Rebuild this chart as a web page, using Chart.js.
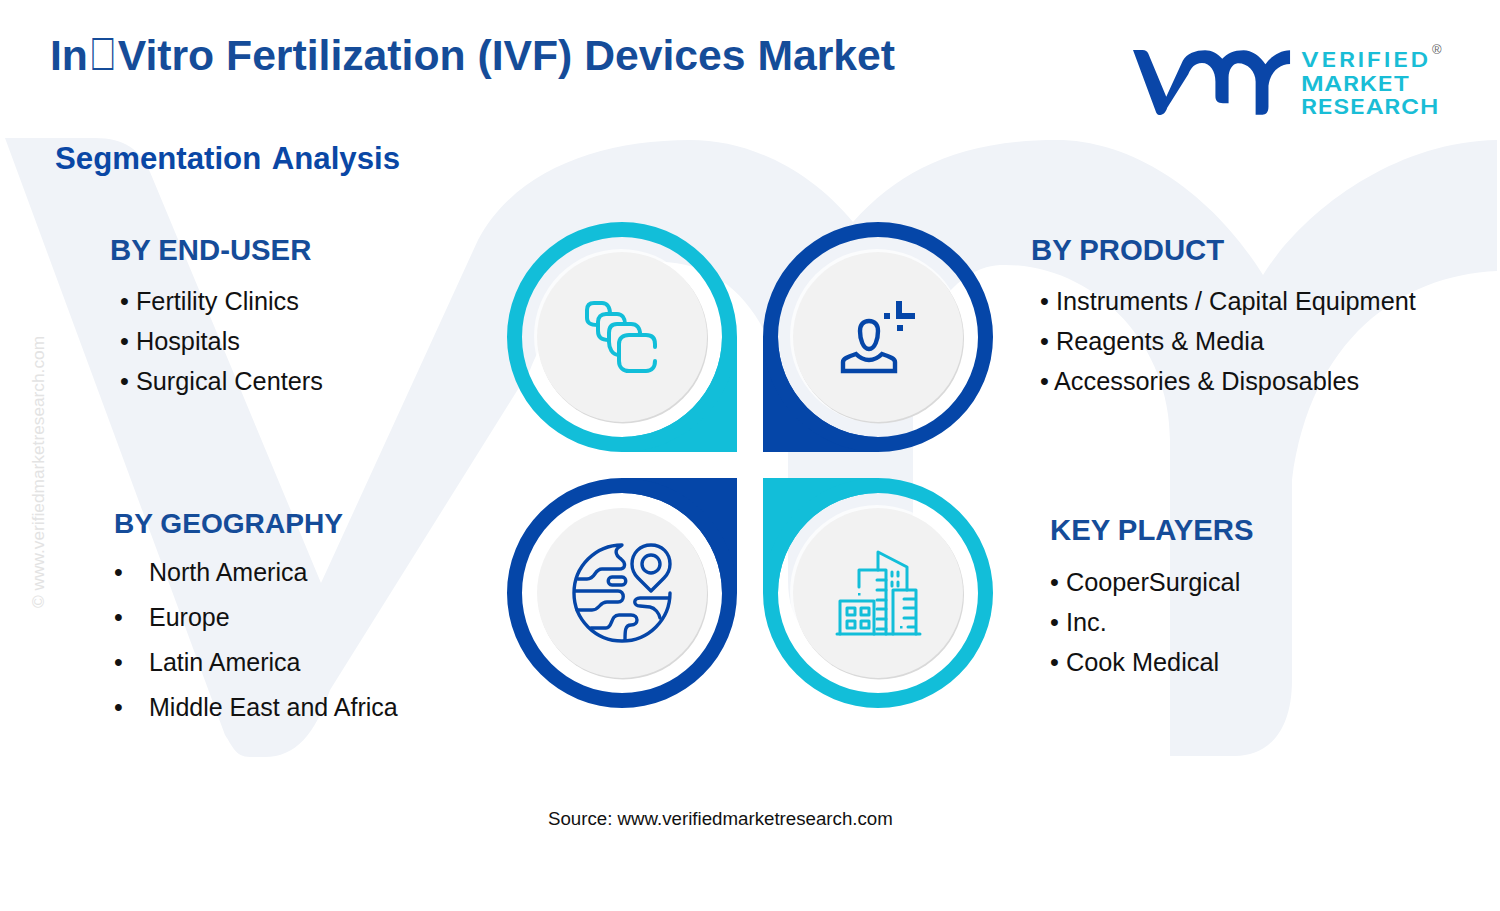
<!DOCTYPE html>
<html>
<head>
<meta charset="utf-8">
<title>IVF Devices Market</title>
<script src="https://cdn.jsdelivr.net/npm/chart.js@4"></script>
<style>
  html, body { margin: 0; padding: 0; background: #fff; }
  #page { position: relative; width: 1500px; height: 911px; overflow: hidden; font-family: "Liberation Sans", Arial, sans-serif; }
  #page svg { position: absolute; left: 0; top: 0; }
  #page canvas { position: absolute; }
  .t { position: absolute; white-space: nowrap; line-height: 1.15; }
  .head { font-weight: bold; font-size: 29.3px; color: #154c99; }
  .item { font-size: 25.3px; color: #111; }
  .geo { font-size: 25px; color: #111; }
  .brand { font-family: Inter, sans-serif; font-weight: 600; font-size: 20.5px; line-height: 20px; color: #19bdd6; transform: scaleX(1.2); transform-origin: 0 50%; }
  .box { display: inline-block; font-weight: normal; margin: 0 2px; transform: scale(0.82, 1.25); transform-origin: 50% 78%; }
</style>
</head>
<body>
<div id="page">
  <svg width="1500" height="911">
    <defs>
      <path id="vmr" d="M5,138 L95,138 C125,138 140,150 150,172 L321,583 L478,240 C515,170 600,140 690,140 C750,140 810,170 853,222 C900,170 960,140 1057,140 C1130,140 1210,190 1263,275 C1300,215 1390,142 1497,140 L1497,271 C1400,275 1310,340 1292,480 L1292,680 C1292,735 1265,756 1235,756 L1170,756 L1170,440 C1170,340 1090,262 1000,265 C950,268 913,330 913,400 L913,646 L860,646 C810,646 788,625 788,580 L788,440 C788,340 740,262 660,262 C590,262 555,310 530,370 L330,690 C315,735 295,757 265,757 L250,757 C235,757 232,745 225,735 Z"/>
    </defs>
    <use href="#vmr" fill="#f0f3f8"/>
    <use href="#vmr" fill="#0a46a8" transform="translate(1133 50) scale(0.10526 0.10482) translate(-5 -138)"/>
  </svg>
  <canvas id="ringEndUser" width="230" height="230" style="left:507px;top:222px"></canvas>
  <canvas id="ringProduct" width="230" height="230" style="left:763px;top:222px"></canvas>
  <canvas id="ringGeography" width="230" height="230" style="left:507px;top:478px"></canvas>
  <canvas id="ringPlayers" width="230" height="230" style="left:763px;top:478px"></canvas>
</div>
<script>
var chartTitle = 'In\u25A1Vitro Fertilization (IVF) Devices Market';
var subTitle = 'Segmentation Analysis';
var sourceText = 'Source: www.verifiedmarketresearch.com';
var copyText = '\u00A9 www.verifiedmarketresearch.com';
var brandLines = ['VERIFIED', 'MARKET', 'RESEARCH'];

var endUserItems = ['Fertility Clinics', 'Hospitals', 'Surgical Centers'];
var productItems = ['Instruments / Capital Equipment', 'Reagents & Media', 'Accessories & Disposables'];
var geographyItems = ['North America', 'Europe', 'Latin America', 'Middle East and Africa'];
var playerItems = ['CooperSurgical', 'Inc.', 'Cook Medical'];

var ringValues = [100];
var CYAN = '#12bed9';
var BLUE = '#0546a8';

var page = document.getElementById('page');

function addText(cls, text, x, cy, extra) {
    var d = document.createElement('div');
    d.className = 't ' + cls;
    d.textContent = text;
    d.style.left = x + 'px';
    if (extra) { Object.assign(d.style, extra); }
    page.appendChild(d);
    d.style.top = (cy - d.offsetHeight / 2) + 'px';
    return d;
}

// spread the logo letters until the line is as wide as in the logo
function addBrand(text, cy, width) {
    var d = addText('brand', text, 1301, cy);
    d.style.letterSpacing = ((width / 1.2 - d.offsetWidth) / (text.length - 1)) + 'px';
}

var titleDiv = addText('', chartTitle, 50, 55, { fontWeight: 'bold', fontSize: '42.7px', color: '#154c99' });
titleDiv.innerHTML = chartTitle.replace('\u25A1', '<span class="box">\u25A1</span>');
addText('', subTitle, 55, 159, { fontWeight: 'bold', fontSize: '31.2px', wordSpacing: '3px', color: '#0a47a5' });
addText('', sourceText, 548, 819, { fontSize: '18.7px', color: '#111' });
addText('', copyText, 39, 472, { fontSize: '17.3px', color: '#e3e3e3', transform: 'translate(-50%,0) rotate(-90deg)', transformOrigin: '50% 50%' });

addText('head', 'BY END-USER', 110, 250);
addText('head', 'BY PRODUCT', 1031, 250);
addText('head', 'BY GEOGRAPHY', 114, 524, { fontSize: '28.1px' });
addText('head', 'KEY PLAYERS', 1050, 530);

endUserItems.forEach(function (s, i) { addText('item', '\u2022 ' + s, 120, 301 + i * 40); });
productItems.forEach(function (s, i) {
    if (i == 2) {
        addText('item', '\u2022', 1040, 301 + i * 40);
        addText('item', s, 1054, 301 + i * 40);
    } else {
        addText('item', '\u2022 ' + s, 1040, 301 + i * 40);
    }
});
geographyItems.forEach(function (s, i) {
    addText('geo', '\u2022', 114, 572 + i * 45);
    addText('geo', s, 149, 572 + i * 45);
});
playerItems.forEach(function (s, i) { addText('item', '\u2022 ' + s, 1050, 582 + i * 40); });

addBrand(brandLines[0], 60, 127);
addBrand(brandLines[1], 84, 109);
addBrand(brandLines[2], 107, 137);
addText('', '\u00AE', 1432, 50, { fontSize: '13px', color: '#666' });

function strokeAll(ctx, paths) {
    paths.forEach(function (p) { ctx.stroke(new Path2D(p)); });
}

var icons = {
    stack: function (ctx) {
        ctx.lineWidth = 4;
        strokeAll(ctx, [
            'M33 10 L33 7 C33 1 30 -2 24 -2 L7 -2 C1 -2 -3 1 -3 7 L-3 24 C-3 30 1 34 7 34 L24 34 C30 34 33 30 33 24 L33 24',
            'M18 -3 C18 -9 15 -13 9 -13 L-5 -13 C-11 -13 -13 -9 -13 -4 L-13 5 C-13 11 -10 18 -3 18',
            'M3 -13 C3 -19 0 -23 -5 -23 L-16 -23 C-21 -23 -24 -20 -24 -15 L-24 -6 C-24 0 -21 3 -13 3',
            'M-12 -23 C-12 -30 -15 -34 -20 -34 L-28 -34 C-33 -34 -35 -31 -35 -27 L-35 -19 C-35 -14 -32 -12 -24 -12'
        ]);
    },
    person: function (ctx) {
        ctx.lineWidth = 4.4;
        ctx.lineJoin = 'miter';
        strokeAll(ctx, [
            'M-9 -16 C-15 -16 -18 -12 -18 -6 C-18 2 -15 12 -9 12 C-3 12 0 2 0 -6 C0 -12 -3 -16 -9 -16 Z',
            'M-35 34 L17 34 L17 25 C17 22 13 20 4 17 C0 21 -4 23 -9 23 C-14 23 -18 21 -22 17 C-31 20 -35 22 -35 25 Z'
        ]);
        ctx.lineWidth = 6;
        ctx.lineCap = 'butt';
        strokeAll(ctx, ['M21 -36 L21 -21 L37 -21']);
        ctx.fillRect(6, -24, 6, 6);
        ctx.fillRect(19, -12, 6, 6);
    },
    globe: function (ctx) {
        ctx.lineWidth = 3.4;
        ctx.beginPath();
        ctx.arc(0, 0, 48, 0, -Math.PI / 2);
        ctx.stroke();
        ctx.beginPath();
        ctx.arc(29, -29, 9, 0, Math.PI * 2);
        ctx.stroke();
        strokeAll(ctx, [
            'M29 -2 L16 -15 C11 -20 10 -24 10 -29 C10 -40 18 -48 29 -48 C40 -48 48 -40 48 -29 C48 -24 47 -20 42 -15 Z',
            'M-1 -47 C-8 -44 -7 -38 -1 -34 C4 -30 4 -24 -3 -24 L-20 -24 C-28 -24 -26 -14 -35 -14 L-44 -14',
            'M-10 -16 L0 -16 C5 -16 5 -8 0 -8 L-10 -8 C-15 -8 -15 -16 -10 -16 Z',
            'M-47 -2 L-4 -2 C3 -2 3 9 -4 9 L-15 9 C-23 9 -22 17 -30 17 L-45 17',
            'M-31 35 L-16 35 C-9 35 -12 22 -3 22 L9 22 C17 22 17 32 9 32 C3 32 3 38 3 47',
            'M47 5 L18 5 C11 5 11 13 18 13 L28 14 C33 15 37 20 38 25'
        ]);
    },
    city: function (ctx) {
        ctx.lineWidth = 3;
        ctx.lineCap = 'round';
        strokeAll(ctx, [
            'M-41 41 L42 41',
            'M-38 41 L-38 8 L-4 8 L-4 41',
            'M-19 -6 L-19 -23 L8 -23 L8 41',
            'M0 -23 L0 -41 L29 -26 L29 -3',
            'M15 41 L15 -3 L38 -3 L38 41',
            'M-1 -13 H8 M-1 -3 H8 M-1 7 H8 M-1 16 H8 M-1 26 H8 M-1 36 H8',
            'M26 6 H37 M26 15 H37 M26 25 H37 M30 34 H37',
            'M14 -21 V-17 M20 -21 V-17 M14 -11 V-7 M20 -11 V-7',
            'M-31 15 H-23 V22 H-31 Z M-17 15 H-9 V22 H-17 Z M-31 28 H-23 V35 H-31 Z M-17 28 H-9 V35 H-17 Z'
        ]);
        ctx.fillRect(-20, 0, 2.5, 2.5);
        ctx.fillRect(22, 33, 2.5, 2.5);
    }
};

var tearPlugin = {
    id: 'tear',
    beforeDatasetsDraw: function (chart, args, opts) {
        var arc = chart.getDatasetMeta(0).data[0];
        var ctx = chart.ctx;
        ctx.save();
        ctx.translate(arc.x, arc.y);
        ctx.beginPath();
        ctx.rect(0, 0, opts.sx * arc.outerRadius, opts.sy * arc.outerRadius);
        ctx.clip();
        ctx.beginPath();
        ctx.rect(-arc.outerRadius, -arc.outerRadius, arc.outerRadius * 2, arc.outerRadius * 2);
        ctx.arc(0, 0, arc.innerRadius, 0, Math.PI * 2);
        ctx.fillStyle = opts.color;
        ctx.fill('evenodd');
        ctx.restore();
    },
    afterDatasetsDraw: function (chart, args, opts) {
        var arc = chart.getDatasetMeta(0).data[0];
        var ctx = chart.ctx;
        ctx.save();
        ctx.translate(arc.x, arc.y);
        ctx.beginPath();
        ctx.arc(-1, -1, 87, 0, Math.PI * 2);
        ctx.fillStyle = 'rgba(255,255,255,0.7)';
        ctx.fill();
        ctx.beginPath();
        ctx.arc(1, 1.5, 85, 0, Math.PI * 2);
        ctx.fillStyle = '#d9d9d9';
        ctx.fill();
        ctx.beginPath();
        ctx.arc(0, 0, 85, 0, Math.PI * 2);
        ctx.fillStyle = '#f2f2f2';
        ctx.fill();
        ctx.strokeStyle = opts.color;
        ctx.fillStyle = opts.color;
        ctx.lineCap = 'round';
        ctx.lineJoin = 'round';
        icons[opts.icon](ctx);
        ctx.restore();
    }
};

function drawRing(id, color, sx, sy, icon) {
    new Chart(document.getElementById(id).getContext('2d'), {
        type: 'doughnut',
        data: {
            labels: [id],
            datasets: [{ data: ringValues, backgroundColor: [color], borderWidth: 0 }]
        },
        options: {
            responsive: false,
            animation: false,
            events: [],
            cutout: 100,
            layout: { padding: 0 },
            plugins: {
                legend: { display: false },
                tooltip: { enabled: false },
                tear: { color: color, sx: sx, sy: sy, icon: icon }
            }
        },
        plugins: [tearPlugin]
    });
}

drawRing('ringEndUser', CYAN, 1, 1, 'stack');
drawRing('ringProduct', BLUE, -1, 1, 'person');
drawRing('ringGeography', BLUE, 1, -1, 'globe');
drawRing('ringPlayers', CYAN, -1, -1, 'city');
</script>
</body>
</html>
